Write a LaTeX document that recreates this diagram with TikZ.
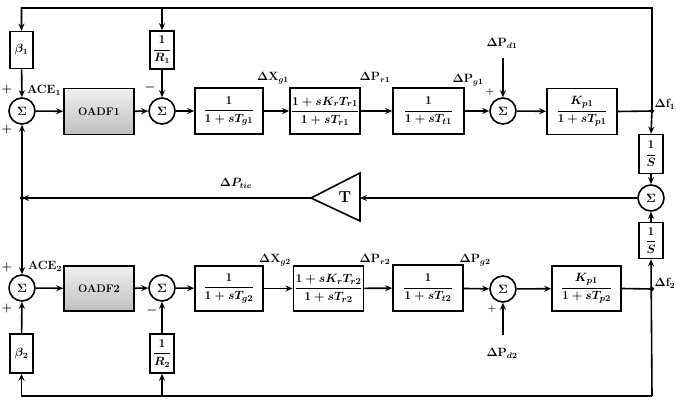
\documentclass[tikz,border=0pt]{standalone}
\usepackage{amsmath}
\usetikzlibrary{arrows.meta}
\begin{document}
\begin{tikzpicture}[x=1pt,y=-1pt,
  line width=1.6pt,
  arr/.style={-{Stealth[length=7pt,width=6pt]}},
  sumnode/.style={circle,draw,minimum size=26pt,inner sep=0pt,font=\boldmath\fontsize{12}{14}\selectfont},
  blk/.style={draw,rectangle,inner sep=1pt,font=\boldmath\fontsize{12.5}{14}\selectfont},
  sblk/.style={draw,rectangle,inner sep=1pt,font=\boldmath\fontsize{12}{14}\selectfont},
  oadf/.style={draw,rectangle,top color=gray!12,bottom color=gray!50,minimum width=70pt,minimum height=46pt,font=\bfseries\fontsize{11}{13}\selectfont},
  lbl/.style={inner sep=0pt,font=\boldmath\bfseries\fontsize{12}{14}\selectfont},
  dot/.style={circle,fill,inner sep=0pt,minimum size=4pt}
]
\useasboundingbox (0,0) rectangle (680,406);

% ---------- area 1 ----------
\node[sblk,minimum width=23pt,minimum height=37pt] (b1) at (21.5,50) {$\beta_1$};
\node[sblk,minimum width=24pt,minimum height=38pt] (r1) at (162,50) {$\dfrac{1}{R_1}$};
\node[sumnode] (s1) at (22,111) {$\Sigma$};
\node[oadf] (oadf1) at (99,111.5) {OADF1};
\node[sumnode] (s2) at (162,111) {$\Sigma$};
\node[blk,minimum width=68pt,minimum height=46pt] (g1) at (229,111) {$\dfrac{1}{1+sT_{g1}}$};
\node[blk,minimum width=68pt,minimum height=46pt] (rh1) at (325,111) {$\dfrac{1+sK_rT_{r1}}{1+sT_{r1}}$};
\node[blk,minimum width=71pt,minimum height=46pt] (t1) at (428.5,111) {$\dfrac{1}{1+sT_{t1}}$};
\node[sumnode] (s3) at (503,111) {$\Sigma$};
\node[blk,minimum width=70pt,minimum height=46pt] (p1) at (582,111.5) {$\dfrac{K_{p1}}{1+sT_{p1}}$};
\coordinate (j1) at (652,111);
\coordinate (tr) at (652,8);
\coordinate (tl) at (21.5,8);
\coordinate (tm) at (162,8);
\coordinate (pd1) at (503,58);

% ---------- tie line ----------
\node[sblk,minimum width=24pt,minimum height=39pt] (inv1) at (651,154) {$\dfrac{1}{S}$};
\node[sumnode] (stie) at (651,198) {$\Sigma$};
\node[sblk,minimum width=24pt,minimum height=36pt] (inv2) at (651,240.5) {$\dfrac{1}{S}$};
\coordinate (triR) at (360,198);
\coordinate (triL) at (311,198);
\draw (360,173) -- (360,221) -- (triL) -- cycle;
\node[font=\bfseries\fontsize{16}{18}\selectfont] (tri) at (345,197) {T};
\coordinate (jt) at (22,198);

% ---------- area 2 ----------
\node[sumnode] (s4) at (22,288) {$\Sigma$};
\node[oadf,minimum height=45pt] (oadf2) at (99,288.5) {OADF2};
\node[sumnode] (s5) at (162,288) {$\Sigma$};
\node[blk,minimum width=68pt,minimum height=45pt] (g2) at (229,288.5) {$\dfrac{1}{1+sT_{g2}}$};
\node[blk,minimum width=69pt,minimum height=45pt] (rh2) at (328.5,288.5) {$\dfrac{1+sK_rT_{r2}}{1+sT_{r2}}$};
\node[blk,minimum width=70pt,minimum height=46pt] (t2) at (428,288) {$\dfrac{1}{1+sT_{t2}}$};
\node[sumnode] (s6) at (503,289) {$\Sigma$};
\node[blk,minimum width=69pt,minimum height=45pt] (p2) at (586.5,288.5) {$\dfrac{K_{p1}}{1+sT_{p2}}$};
\node[sblk,minimum width=23pt,minimum height=39pt] (b2) at (21.5,353.5) {$\beta_2$};
\node[sblk,minimum width=24pt,minimum height=39pt] (r2) at (162,353.5) {$\dfrac{1}{R_2}$};
\coordinate (j2) at (652,289);
\coordinate (br) at (652,396);
\coordinate (bl) at (21.5,396);
\coordinate (bm) at (162,396);
\coordinate (pd2) at (503,335);

% ---------- connectors area 1 ----------
\draw[arr] (p1.east) -- (j1) -- (tr) -- (tl) -- (b1.north);
\draw[arr] (tm) -- (r1.north);
\draw[arr] (b1) -- (s1);
\draw[arr] (r1) -- (s2);
\draw[arr] (s1) -- (oadf1);
\draw[arr] (oadf1) -- (s2);
\draw[arr] (s2) -- (g1);
\draw[arr] (g1) -- (rh1);
\draw[arr] (rh1) -- (t1);
\draw[arr] (t1) -- (s3);
\draw[arr] (s3) -- (p1);
\draw[arr] (pd1) -- (s3);

% ---------- connectors tie ----------
\draw[arr] (j1) -- (inv1.north);
\draw[arr] (inv1) -- (stie);
\draw[arr] (inv2) -- (stie);
\draw[arr] (stie.west) -- (triR);
\draw[arr] (triL) -- (jt);
\draw[arr] (jt) -- (s1.south);
\draw[arr] (jt) -- (s4.north);

% ---------- connectors area 2 ----------
\draw (p2.east) -- (j2);
\draw[arr] (br) -- (inv2.south);
\draw[arr] (br) -- (bl) -- (b2.south);
\draw[arr] (bm) -- (r2.south);
\draw[arr] (b2) -- (s4);
\draw[arr] (r2) -- (s5);
\draw[arr] (s4) -- (oadf2);
\draw[arr] (oadf2) -- (s5);
\draw[arr] (s5) -- (g2);
\draw[arr] (g2) -- (rh2);
\draw[arr] (rh2) -- (t2);
\draw[arr] (t2) -- (s6);
\draw[arr] (s6) -- (p2);
\draw[arr] (pd2) -- (s6);

% junction dots
\node[dot] at (j1) {};
\node[dot] at (j2) {};
\node[dot] at (jt) {};

% ---------- labels ----------
\node[lbl] at (7,90) {$+$};
\node[lbl] at (7,130) {$+$};
\node[lbl] at (7,267) {$+$};
\node[lbl] at (7,308) {$+$};
\node[lbl] at (150,88) {$-$};
\node[lbl] at (152,310) {$-$};
\node[lbl,font=\boldmath\fontsize{9}{10}\selectfont] at (490,92) {$+$};
\node[lbl,font=\boldmath\fontsize{9}{10}\selectfont] at (492,309) {$+$};
\node[lbl] at (44,90) {ACE$_{1}$};
\node[lbl] at (45,266) {ACE$_{2}$};
\node[lbl] at (273,78) {$\Delta\mathrm{X}_{g1}$};
\node[lbl] at (375,77) {$\Delta\mathrm{P}_{r1}$};
\node[lbl] at (468,80) {$\Delta\mathrm{P}_{g1}$};
\node[lbl] at (502,43) {$\Delta\mathrm{P}_{d1}$};
\node[lbl] at (665,104) {$\Delta\mathrm{f}_{1}$};
\node[lbl] at (236,183) {$\Delta P_{tie}$};
\node[lbl] at (275,260) {$\Delta\mathrm{X}_{g2}$};
\node[lbl] at (375,259) {$\Delta\mathrm{P}_{r2}$};
\node[lbl] at (475,260) {$\Delta\mathrm{P}_{g2}$};
\node[lbl] at (502,353) {$\Delta\mathrm{P}_{d2}$};
\node[lbl] at (665,283) {$\Delta\mathrm{f}_{2}$};
\end{tikzpicture}
\end{document}
